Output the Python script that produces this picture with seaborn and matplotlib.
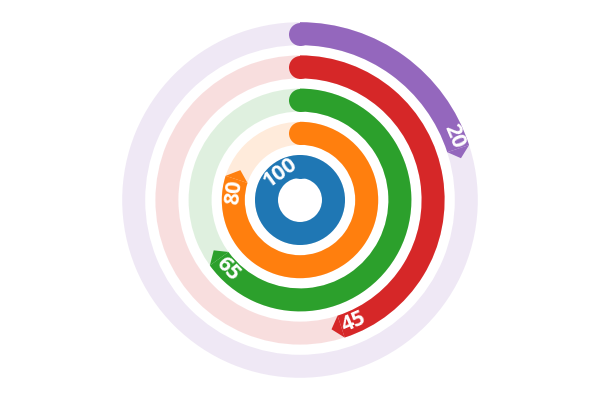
import numpy as np
import matplotlib.pyplot as plt
import seaborn as sns

# ring values, outermost last
values = [100, 80, 65, 45, 20]
labels = ["100", "80", "65", "45", "20"]

sns.set_theme(style="white")
plt.rcParams['font.family'] = ['Open Sans', 'DejaVu Sans']
colors = sns.color_palette("tab10", len(values))

fig = plt.figure(figsize=(6, 4), dpi=100)
ax = fig.add_axes([1 / 6, 0, 2 / 3, 1], projection='polar')
ax.set_theta_zero_location('N')
ax.set_theta_direction(-1)
ax.set_ylim(0, 200)
ax.set_axis_off()

# geometry in pixels (1 radial unit = 1 px)
width = 23
hole = 22
step = 33.2

for i, (val, lab, col) in enumerate(zip(values, labels, colors)):
    r0 = hole + i * step
    rc = r0 + width / 2
    end = 2 * np.pi * val / 100

    # light track + value arc
    ax.bar(np.pi, width, width=2 * np.pi, bottom=r0, color=col, alpha=0.15,
           linewidth=0, zorder=1)
    ax.bar(end / 2, width, width=end, bottom=r0, color=col, linewidth=0,
           zorder=2)

    # round start cap and pointed end tag
    ax.scatter([0], [rc], s=(width * 0.72) ** 2, color=col, linewidths=0,
               zorder=3)
    tip = end + 10 / rc
    ax.fill([end, end, tip], [r0, r0 + width, rc], color=col, linewidth=0,
            zorder=3)

    # label along the arc, just before the end
    d = 8 * len(lab) - 3
    th = end - d / rc
    rot = -np.degrees(th)
    rot = ((rot + 90) % 180) - 90
    ax.text(th, rc, lab, rotation=rot, rotation_mode='anchor', ha='center',
            va='center', color='white', fontsize=15.5, fontweight='bold',
            zorder=4)

fig.savefig('out.png', dpi=100)
